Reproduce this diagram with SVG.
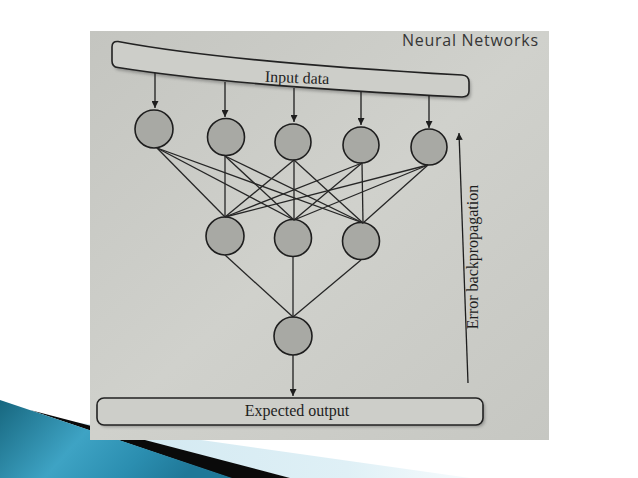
<svg xmlns="http://www.w3.org/2000/svg" width="638" height="478" viewBox="0 0 638 478">
<defs>
<linearGradient id="blue" x1="0" y1="0" x2="1" y2="0.3">
<stop offset="0" stop-color="#17677f"/>
<stop offset="0.45" stop-color="#3ea3c4"/>
<stop offset="0.75" stop-color="#2b8eb0"/>
<stop offset="1" stop-color="#1f7898"/>
</linearGradient>
<linearGradient id="pale" x1="0" y1="0" x2="1" y2="0">
<stop offset="0" stop-color="#cfe7f0"/>
<stop offset="0.7" stop-color="#dff0f6"/>
<stop offset="1" stop-color="#f6fbfd"/>
</linearGradient>
<linearGradient id="paper" x1="0" y1="0" x2="1" y2="1">
<stop offset="0" stop-color="#c4c5c0"/>
<stop offset="0.5" stop-color="#d0d1cc"/>
<stop offset="1" stop-color="#c6c7c2"/>
</linearGradient>
<marker id="ah" viewBox="0 0 10 10" refX="10" refY="5" markerWidth="7" markerHeight="7" markerUnits="userSpaceOnUse" orient="auto">
<path d="M0,0 L10,5 L0,10 Z" fill="#1e1e1e"/>
</marker>
<filter id="sh" x="-5%" y="-20%" width="110%" height="160%">
<feGaussianBlur stdDeviation="1.5"/>
</filter>
<style>
.node{fill:#a8a9a4;stroke:#1e1e1e;stroke-width:1.6}
.edge{stroke:#262626;stroke-width:1.3;fill:none}
.arr{stroke:#1e1e1e;stroke-width:1.3;fill:none;marker-end:url(#ah)}
.bar{fill:#cdcec9;stroke:#222;stroke-width:1.6}
.lbl{font-family:"Liberation Serif",serif;font-size:16px;fill:#1e1e1e}
</style>
</defs>
<rect width="638" height="478" fill="#ffffff"/>
<g id="slide-decoration">
<polygon points="60,420 470,478 290,478" fill="url(#pale)"/>
<polygon points="30,410 290,478 230,478" fill="#0a0a0a"/>
<polygon points="0,400 232,478 0,478" fill="url(#blue)"/>
</g>
<rect id="photo" x="90" y="31" width="459" height="409" fill="url(#paper)"/>
<text id="title" x="402" y="46" font-family="'Open Sans','DejaVu Sans',sans-serif" font-size="16" fill="#363636" textLength="136">Neural Networks</text>
<g id="input-data">
<path d="M118,41.5 C190,55 300,66 462,75 Q469,75.5 469,82 L469,91 Q469,97 462,97 C300,89 190,79 118,67.5 Q112,67 112,61 L112,47 Q112,41 118,41.5 Z" fill="#333" opacity="0.35" filter="url(#sh)" transform="translate(2,3)"/>
<path class="bar" d="M118,41.5 C190,55 300,66 462,75 Q469,75.5 469,82 L469,91 Q469,97 462,97 C300,89 190,79 118,67.5 Q112,67 112,61 L112,47 Q112,41 118,41.5 Z"/>
<text class="lbl" x="297" y="83" text-anchor="middle" transform="rotate(2 297 80)">Input data</text>
</g>
<g id="expected-output">
<rect x="99" y="400" width="386" height="27" rx="7" fill="#333" opacity="0.35" filter="url(#sh)"/>
<rect class="bar" x="97" y="398" width="386" height="27" rx="7"/>
<text class="lbl" x="297" y="416" text-anchor="middle">Expected output</text>
</g>
<g id="in1"><circle class="node" cx="154" cy="129" r="19"/></g>
<g id="in2"><circle class="node" cx="226" cy="137" r="18.5"/></g>
<g id="in3"><circle class="node" cx="293" cy="142" r="18"/></g>
<g id="in4"><circle class="node" cx="361" cy="145" r="18"/></g>
<g id="in5"><circle class="node" cx="429" cy="147" r="18"/></g>
<g id="h1"><circle class="node" cx="225" cy="236" r="19"/></g>
<g id="h2"><circle class="node" cx="293" cy="238" r="18.5"/></g>
<g id="h3"><circle class="node" cx="361" cy="241" r="18.5"/></g>
<g id="out"><circle class="node" cx="293" cy="336" r="19"/></g>
<g id="error-backprop">
<line class="arr" x1="468" y1="383" x2="459" y2="133"/>
<text class="lbl" x="0" y="0" font-size="15.5" text-anchor="middle" transform="translate(478 257) rotate(-90)">Error backpropagation</text>
</g>
<g id="connectors">
<line class="arr" x1="155" y1="73" x2="155" y2="108"/>
<line class="arr" x1="225" y1="82" x2="225" y2="117"/>
<line class="arr" x1="294" y1="88" x2="294" y2="122"/>
<line class="arr" x1="361" y1="92" x2="361" y2="125"/>
<line class="arr" x1="429" y1="95" x2="429" y2="128"/>
<line class="edge" x1="157" y1="148" x2="225" y2="217"/>
<line class="edge" x1="157" y1="148" x2="294" y2="220"/>
<line class="edge" x1="157" y1="148" x2="363" y2="223"/>
<line class="edge" x1="225" y1="156" x2="225" y2="217"/>
<line class="edge" x1="225" y1="156" x2="294" y2="220"/>
<line class="edge" x1="225" y1="156" x2="363" y2="223"/>
<line class="edge" x1="294" y1="160" x2="225" y2="217"/>
<line class="edge" x1="294" y1="160" x2="294" y2="220"/>
<line class="edge" x1="294" y1="160" x2="363" y2="223"/>
<line class="edge" x1="362" y1="163" x2="225" y2="217"/>
<line class="edge" x1="362" y1="163" x2="294" y2="220"/>
<line class="edge" x1="362" y1="163" x2="363" y2="223"/>
<line class="edge" x1="428" y1="165" x2="225" y2="217"/>
<line class="edge" x1="428" y1="165" x2="294" y2="220"/>
<line class="edge" x1="428" y1="165" x2="363" y2="223"/>
<line class="edge" x1="225" y1="255" x2="293" y2="317"/>
<line class="edge" x1="293" y1="257" x2="293" y2="317"/>
<line class="edge" x1="361" y1="260" x2="293" y2="317"/>
<line class="arr" x1="293" y1="355" x2="293" y2="396"/>
</g>
</svg>
